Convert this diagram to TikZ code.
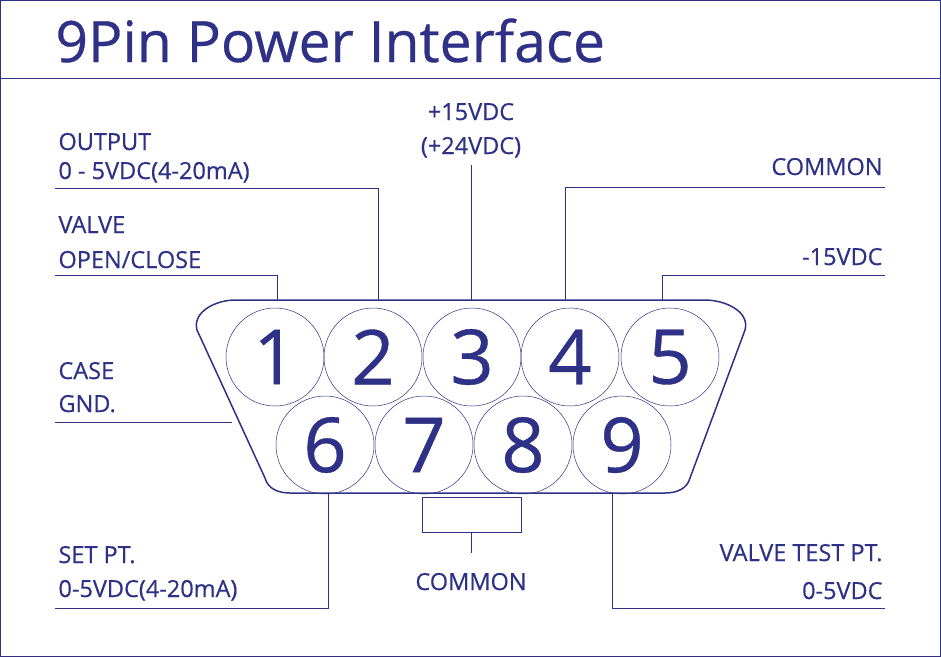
\documentclass[tikz,border=0pt]{standalone}
\usepackage{fontspec}
\setmainfont{Open Sans}[FakeBold=0.5]
\usetikzlibrary{positioning}
\definecolor{ink}{HTML}{2E3185}

\begin{document}
\begin{tikzpicture}[x=1pt, y=-1pt, ink, line width=1pt,
    pin/.style = {circle, draw, line width=0.5pt, minimum size=98pt, inner sep=0pt, font=\fontsize{76}{76}\selectfont},
    lbl/.style = {font=\fontsize{23.5}{25}\selectfont, inner sep=0pt}]
                \useasboundingbox (0,0) rectangle (941,657);
                \draw (0.5,0.5) rectangle (940.5,656.5);
                \draw (0,78) -- (941,78);
                \node[anchor=base west, inner sep=0pt, font=\fontsize{57}{57}\selectfont] (title) at (55,62) {9Pin Power Interface};

                % connector shell
                \draw[line width=1.5pt] (235,300) -- (705,300) to[out=0, in=75] (745,330)
                    -- (690,478) to[out=255, in=0] (665,493) -- (290,493) to[out=180, in=285] (265,478)
                    -- (197,330) to[out=105, in=180] (235,300) -- cycle;

                % pins
                \node[pin] (p1) at (275,357) {1};
                \node[pin] (p2) at (373,357) {2};
                \node[pin] (p3) at (472,357) {3};
                \node[pin] (p4) at (570,357) {4};
                \node[pin] (p5) at (670,357) {5};
                \node[pin] (p6) at (325,445) {6};
                \node[pin] (p7) at (424,445) {7};
                \node[pin] (p8) at (523,445) {8};
                \node[pin] (p9) at (622,445) {9};

                % labels
                \node[lbl, anchor=base west] (valve)  at (58,233) {VALVE};
                \node[lbl, anchor=base west] (open)   at (58,268) {OPEN/CLOSE};
                \node[lbl, anchor=base west] (output) at (58,150) {OUTPUT};
                \node[lbl, anchor=base west] (outv)   at (58,179) {0 - 5VDC(4-20mA)};
                \node[lbl, anchor=base]      (pos)    at (471,120) {+15VDC};
                \node[lbl, anchor=base]      (pos24)  at (471,154) {(+24VDC)};
                \node[lbl, anchor=base east] (com1)   at (883,175) {COMMON};
                \node[lbl, anchor=base east] (neg)    at (883,265) {-15VDC};
                \node[lbl, anchor=base west] (case)   at (58,379) {CASE};
                \node[lbl, anchor=base west] (gnd)    at (58,412) {GND.};
                \node[lbl, anchor=base west] (set)    at (58,563) {SET PT.};
                \node[lbl, anchor=base west] (setv)   at (58,597) {0-5VDC(4-20mA)};
                \node[lbl, anchor=base]      (com2)   at (471,590) {COMMON};
                \node[lbl, anchor=base east] (test)   at (883,561) {VALVE TEST PT.};
                \node[lbl, anchor=base east] (testv)  at (883,599) {0-5VDC};

                % leads
                \coordinate (c1) at (55,275);
                \coordinate (c2) at (55,188);
                \coordinate (c4) at (885,187);
                \coordinate (c5) at (885,275);
                \coordinate (c6) at (55,608);
                \coordinate (c9) at (885,608);
                \coordinate (cg) at (55,422);
                \draw (277,300) |- (c1);
                \draw (378,300) |- (c2);
                \draw (471,300) -- (471,165);
                \draw (565,300) |- (c4);
                \draw (662,300) |- (c5);
                \draw (328,493) |- (c6);
                \draw (612,493) |- (c9);
                \draw (cg) -- (232,422);
                \draw (422,497) rectangle (521,532);
                \draw (471,532) -- (471,553);
\end{tikzpicture}
\end{document}
